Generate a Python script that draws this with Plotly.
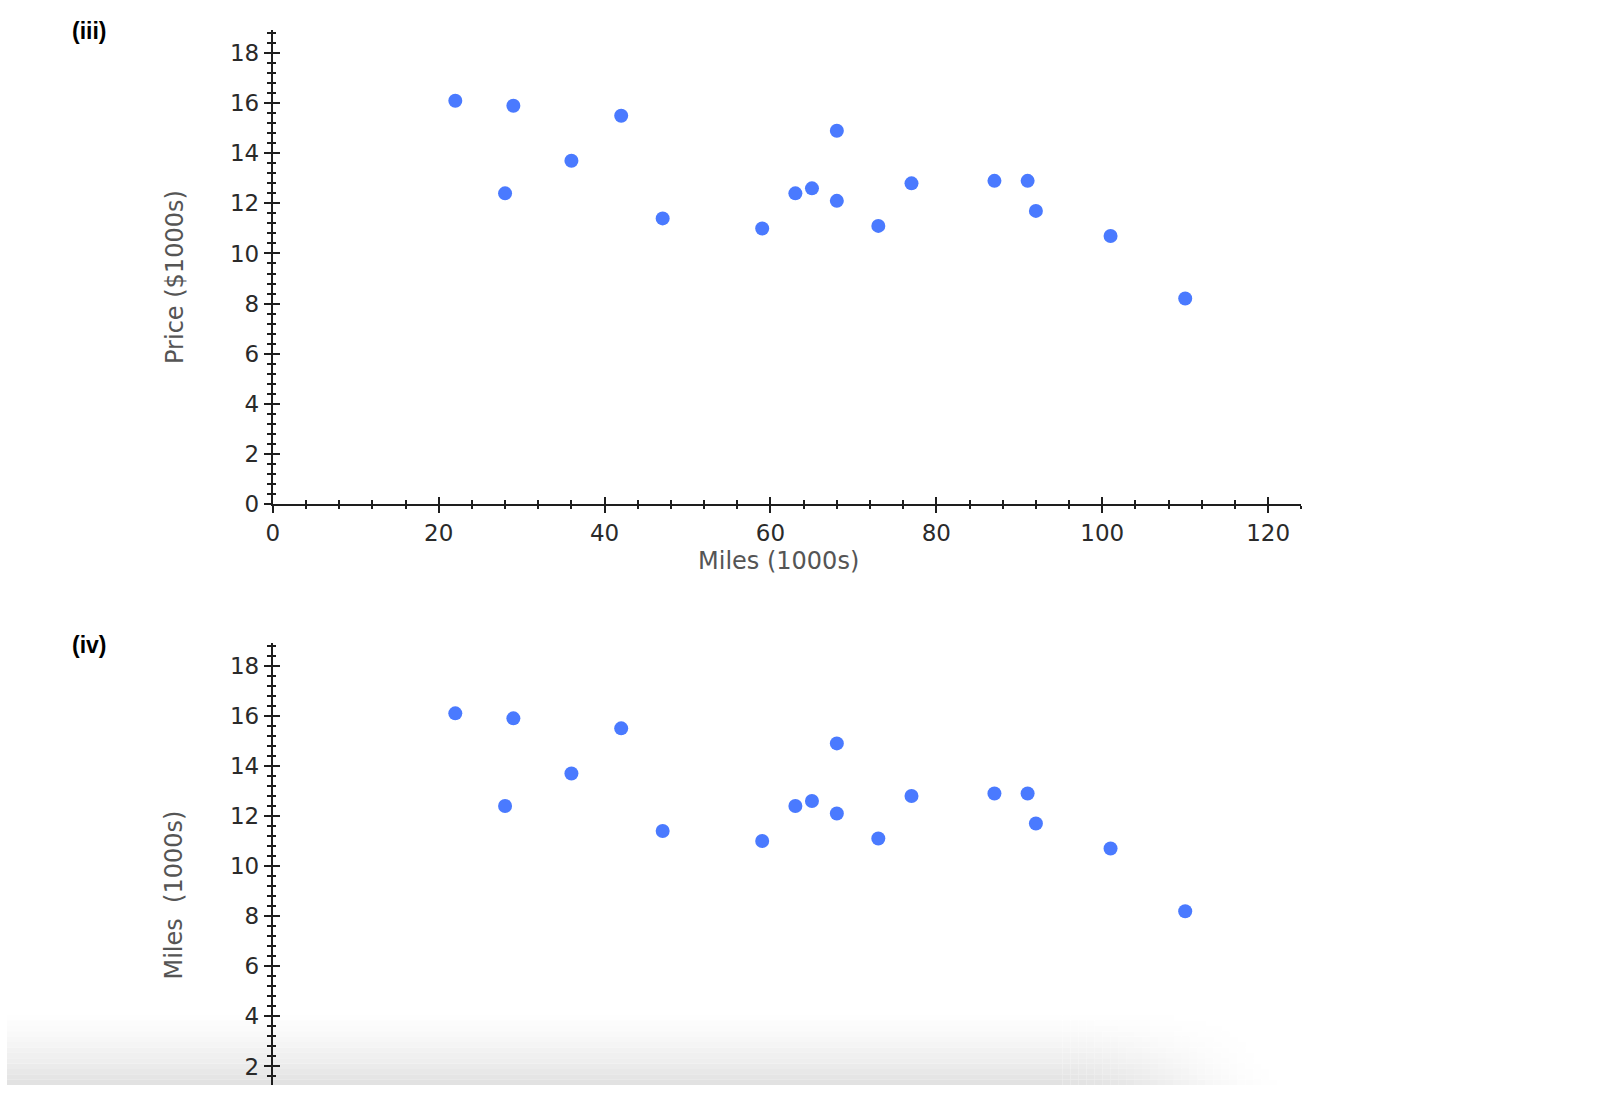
import plotly.graph_objects as go

# Data (miles in 1000s, price in $1000s)
miles = [22, 29, 28, 36, 42, 47, 59, 63, 65, 68, 68, 73, 77, 87, 91, 92, 101, 110]
price = [16.1, 15.9, 12.4, 13.7, 15.5, 11.4, 11.0, 12.4, 12.6, 14.9, 12.1, 11.1, 12.8, 12.9, 12.9, 11.7, 10.7, 8.2]

x_ticks = [0, 20, 40, 60, 80, 100, 120]
y_ticks = [0, 2, 4, 6, 8, 10, 12, 14, 16, 18]

W, H = 1602, 1098
MARK = "#4a7aff"
AX = "#1e1e1e"
TICKFONT = dict(family="DejaVu Sans", size=23, color="#2a2a2a")
TITLEFONT = dict(family="DejaVu Sans", size=24, color="#555")

xdom = [267 / W, 1300 / W]
y1dom = [1 - 510 / H, 1 - 30.4 / H]
y2dom = [0, 1 - 650.4 / H]
xr = [0, 124]
y1r = [0, 18.92]
y2r = [1.26, 18.92]

fig = go.Figure()
mk = dict(color=MARK, size=14, symbol="circle")
fig.add_trace(go.Scatter(x=miles, y=price, mode="markers", marker=mk, xaxis="x", yaxis="y", hoverinfo="skip"))
fig.add_trace(go.Scatter(x=miles, y=price, mode="markers", marker=mk, xaxis="x2", yaxis="y2", hoverinfo="skip"))
# overlay subplots carrying the inward half of the crossing ticks
fig.add_trace(go.Scatter(x=[], y=[], xaxis="x3", yaxis="y3", showlegend=False))
fig.add_trace(go.Scatter(x=[], y=[], xaxis="x4", yaxis="y4", showlegend=False))


def xax(ticks, labels, anchor, overlay=None, visible=True):
    d = dict(domain=xdom, range=xr, anchor=anchor, tickmode="array", tickvals=x_ticks,
             ticks=ticks, ticklen=7, tickwidth=2, tickcolor=AX,
             showline=labels, linecolor=AX, linewidth=2, showgrid=False, zeroline=False,
             showticklabels=labels, tickfont=TICKFONT, fixedrange=True, visible=visible,
             minor=dict(dtick=4, tick0=0, ticks=ticks, ticklen=3.5, tickwidth=2, tickcolor=AX, showgrid=False))
    if overlay:
        d["overlaying"] = overlay
    return d


def yax(dom, rng, ticks, labels, anchor, overlay=None):
    d = dict(domain=dom, range=rng, anchor=anchor, tickmode="array", tickvals=y_ticks,
             ticks=ticks, ticklen=7, tickwidth=2, tickcolor=AX,
             showline=labels, linecolor=AX, linewidth=2, showgrid=False, zeroline=False,
             showticklabels=labels, tickfont=TICKFONT, fixedrange=True,
             minor=dict(dtick=0.4, tick0=0, ticks=ticks, ticklen=3.5, tickwidth=2, tickcolor=AX, showgrid=False))
    if overlay:
        d["overlaying"] = overlay
    return d


shapes = []
# faint grey fade at the bottom of the page (screen artefact in the reference)
rows = 14
ytop, ybot = 1022, 1098
step = 8
fade0, fade1 = 1060, 1292
cols = [(0, fade0)] + [(c, c + step) for c in range(fade0, fade1, step)]
for i in range(rows):
    y0 = ytop + i * (ybot - ytop) / rows
    y1 = ytop + (i + 1) * (ybot - ytop) / rows
    t = (i + 0.5) / rows
    v = t ** 1.4
    end = fade1 - 45 * (1 - t)
    for (c0, c1) in cols:
        cx = (c0 + c1) / 2
        if c1 <= fade0:
            h = 1.0
        else:
            u = min(1.0, max(0.0, (cx - fade0) / (end - fade0)))
            h = 1 - u * u * (3 - 2 * u)
        g = int(round(255 - 30 * v * h))
        if g >= 255:
            continue
        shapes.append(dict(type="rect", xref="paper", yref="paper", x0=c0 / W, x1=c1 / W,
                           y0=1 - y1 / H, y1=1 - y0 / H, line=dict(width=0),
                           fillcolor=f"rgb({g},{g},{g})", layer="below"))

ann = [
    dict(text="<b>(iii)</b>", x=63 / W, y=1 - 31 / H, xanchor="left", yanchor="middle",
         font=dict(family="Liberation Sans", size=23, color="#000")),
    dict(text="<b>(iv)</b>", x=63 / W, y=1 - 653 / H, xanchor="left", yanchor="middle",
         font=dict(family="Liberation Sans", size=23, color="#000")),
    dict(text="Price ($1000s)", x=168 / W, y=1 - 280 / H, textangle=-90, xanchor="center", yanchor="middle",
         font=TITLEFONT),
    dict(text="Miles (1000s)", x=775 / W, y=1 - 568 / H, xanchor="center", yanchor="middle",
         font=TITLEFONT),
    dict(text="Miles  (1000s)", x=168 / W, y=1 - 906 / H, textangle=-90, xanchor="center", yanchor="middle",
         font=TITLEFONT),
]
for a in ann:
    a.update(xref="paper", yref="paper", showarrow=False)

fig.update_layout(
    width=W, height=H, margin=dict(l=0, r=0, t=0, b=0),
    paper_bgcolor="white", plot_bgcolor="rgba(0,0,0,0)", showlegend=False,
    xaxis=xax("outside", True, "y"),
    yaxis=yax(y1dom, y1r, "outside", True, "x"),
    xaxis2=xax("outside", False, "y2", visible=False),
    yaxis2=yax(y2dom, y2r, "outside", True, "x2"),
    xaxis3=xax("inside", False, "y3", overlay="x"),
    yaxis3=yax(y1dom, y1r, "inside", False, "x3", overlay="y"),
    xaxis4=xax("inside", False, "y4", overlay="x2", visible=False),
    yaxis4=yax(y2dom, y2r, "inside", False, "x4", overlay="y2"),
    shapes=shapes, annotations=ann,
)

fig.write_html("out.html", config=dict(displayModeBar=False),
               post_script="document.body.style.margin='0px';document.body.style.overflow='hidden';")
